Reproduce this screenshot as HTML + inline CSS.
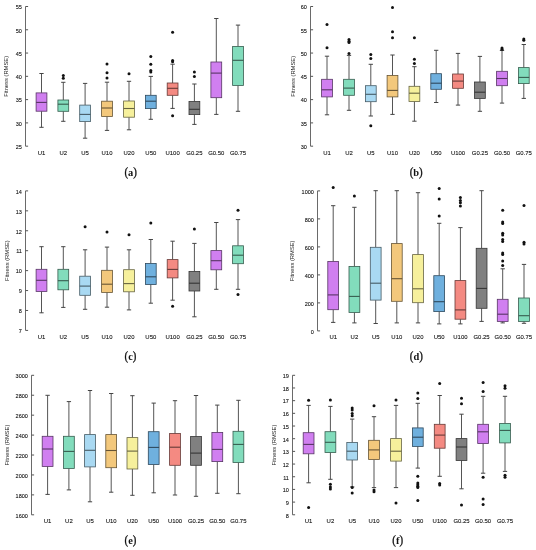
<!DOCTYPE html>
<html><head><meta charset="utf-8"><title>Fitness boxplots</title>
<style>
html,body{margin:0;padding:0;background:#fff;}
body{width:536px;height:550px;overflow:hidden;}
svg{display:block;will-change:transform;}
.t{font-family:"Liberation Sans",sans-serif;font-size:5.95px;fill:#111;stroke:#111;stroke-width:0.1px;}
.tt{font-size:5.8px;stroke:none;fill:#222;}
.cap{font-family:"Liberation Serif",serif;font-size:11.2px;font-weight:bold;fill:#111;}
.par{font-weight:normal;font-size:11.7px;stroke:#111;stroke-width:0.3px;}
.nb{font-weight:normal;}
</style></head>
<body>
<svg width="536" height="550" viewBox="0 0 536 550">
<rect width="536" height="550" fill="#fff"/>
<path d="M25.5 6.5V146.18" stroke="#6a6a6a" stroke-width="1" fill="none"/>
<path d="M25.5 6.5H28.1" stroke="#555" stroke-width="1"/>
<text class="t" text-anchor="end" transform="translate(21.9 9.3) scale(0.93 1)">55</text>
<path d="M25.5 29.78H28.1" stroke="#555" stroke-width="1"/>
<text class="t" text-anchor="end" transform="translate(21.9 32.58) scale(0.93 1)">50</text>
<path d="M25.5 53.06H28.1" stroke="#555" stroke-width="1"/>
<text class="t" text-anchor="end" transform="translate(21.9 55.86) scale(0.93 1)">45</text>
<path d="M25.5 76.34H28.1" stroke="#555" stroke-width="1"/>
<text class="t" text-anchor="end" transform="translate(21.9 79.14) scale(0.93 1)">40</text>
<path d="M25.5 99.62H28.1" stroke="#555" stroke-width="1"/>
<text class="t" text-anchor="end" transform="translate(21.9 102.42) scale(0.93 1)">35</text>
<path d="M25.5 122.9H28.1" stroke="#555" stroke-width="1"/>
<text class="t" text-anchor="end" transform="translate(21.9 125.7) scale(0.93 1)">30</text>
<path d="M25.5 146.18H28.1" stroke="#555" stroke-width="1"/>
<text class="t" text-anchor="end" transform="translate(21.9 148.98) scale(0.93 1)">25</text>
<text class="t tt" text-anchor="middle" transform="translate(8.4 76.34) rotate(-90)">Fitness (RMSE)</text>
<path d="M41.5 73.5V92.9M41.5 111.2V127.3" stroke="#555" stroke-width="1" fill="none"/>
<path d="M39.35 73.5H43.65" stroke="#444" stroke-width="1"/>
<path d="M39.35 127.3H43.65" stroke="#444" stroke-width="1"/>
<rect x="36.1" y="92.9" width="10.8" height="18.3" fill="#d07ff0" stroke="#573564" stroke-width="0.8"/>
<path d="M36.1 102.4H46.9" stroke="#573564" stroke-width="1.1"/>
<text x="41.5" y="154.8" class="t" text-anchor="middle">U1</text>
<path d="M63.3 82.3V100M63.3 111.3V121.3" stroke="#555" stroke-width="1" fill="none"/>
<path d="M61.15 82.3H65.45" stroke="#444" stroke-width="1"/>
<path d="M61.15 121.3H65.45" stroke="#444" stroke-width="1"/>
<rect x="57.9" y="100" width="10.8" height="11.3" fill="#82dcbc" stroke="#365c4e" stroke-width="0.8"/>
<path d="M57.9 104.2H68.7" stroke="#365c4e" stroke-width="1.1"/>
<circle cx="63.3" cy="75.6" r="1.5" fill="#111"/>
<circle cx="63.3" cy="78.2" r="1.5" fill="#111"/>
<text x="63.3" y="154.8" class="t" text-anchor="middle">U2</text>
<path d="M85.1 83.4V105.1M85.1 121.6V138.2" stroke="#555" stroke-width="1" fill="none"/>
<path d="M82.95 83.4H87.25" stroke="#444" stroke-width="1"/>
<path d="M82.95 138.2H87.25" stroke="#444" stroke-width="1"/>
<rect x="79.7" y="105.1" width="10.8" height="16.5" fill="#a9d9f2" stroke="#465b65" stroke-width="0.8"/>
<path d="M79.7 114.4H90.5" stroke="#465b65" stroke-width="1.1"/>
<text x="85.1" y="154.8" class="t" text-anchor="middle">U5</text>
<path d="M107 82.2V101.2M107 116.5V130.4" stroke="#555" stroke-width="1" fill="none"/>
<path d="M104.85 82.2H109.15" stroke="#444" stroke-width="1"/>
<path d="M104.85 130.4H109.15" stroke="#444" stroke-width="1"/>
<rect x="101.6" y="101.2" width="10.8" height="15.3" fill="#f3c87c" stroke="#665434" stroke-width="0.8"/>
<path d="M101.6 108H112.4" stroke="#665434" stroke-width="1.1"/>
<circle cx="107" cy="64.1" r="1.5" fill="#111"/>
<circle cx="107" cy="72.7" r="1.5" fill="#111"/>
<circle cx="107" cy="77.9" r="1.5" fill="#111"/>
<text x="107" y="154.8" class="t" text-anchor="middle">U10</text>
<path d="M129 81.3V101M129 117.2V129.8" stroke="#555" stroke-width="1" fill="none"/>
<path d="M126.85 81.3H131.15" stroke="#444" stroke-width="1"/>
<path d="M126.85 129.8H131.15" stroke="#444" stroke-width="1"/>
<rect x="123.6" y="101" width="10.8" height="16.2" fill="#f6f09c" stroke="#676441" stroke-width="0.8"/>
<path d="M123.6 108.5H134.4" stroke="#676441" stroke-width="1.1"/>
<circle cx="129" cy="73.7" r="1.5" fill="#111"/>
<text x="129" y="154.8" class="t" text-anchor="middle">U20</text>
<path d="M150.8 76.4V95.3M150.8 108.6V119.3" stroke="#555" stroke-width="1" fill="none"/>
<path d="M148.65 76.4H152.95" stroke="#444" stroke-width="1"/>
<path d="M148.65 119.3H152.95" stroke="#444" stroke-width="1"/>
<rect x="145.4" y="95.3" width="10.8" height="13.3" fill="#6fb0de" stroke="#2e495d" stroke-width="0.8"/>
<path d="M145.4 101.2H156.2" stroke="#2e495d" stroke-width="1.1"/>
<circle cx="150.8" cy="56.6" r="1.5" fill="#111"/>
<circle cx="150.8" cy="64.2" r="1.5" fill="#111"/>
<circle cx="150.8" cy="70.5" r="1.5" fill="#111"/>
<circle cx="150.8" cy="72.1" r="1.5" fill="#111"/>
<text x="150.8" y="154.8" class="t" text-anchor="middle">U50</text>
<path d="M172.6 64.2V83M172.6 95.3V108.4" stroke="#555" stroke-width="1" fill="none"/>
<path d="M170.45 64.2H174.75" stroke="#444" stroke-width="1"/>
<path d="M170.45 108.4H174.75" stroke="#444" stroke-width="1"/>
<rect x="167.2" y="83" width="10.8" height="12.3" fill="#f48a82" stroke="#663936" stroke-width="0.8"/>
<path d="M167.2 88.3H178" stroke="#663936" stroke-width="1.1"/>
<circle cx="172.6" cy="32.2" r="1.5" fill="#111"/>
<circle cx="172.6" cy="60.5" r="1.5" fill="#111"/>
<circle cx="172.6" cy="61.8" r="1.5" fill="#111"/>
<circle cx="172.6" cy="115.8" r="1.5" fill="#111"/>
<text x="172.6" y="154.8" class="t" text-anchor="middle">U100</text>
<path d="M194.4 84V101.5M194.4 114.6V124.4" stroke="#555" stroke-width="1" fill="none"/>
<path d="M192.25 84H196.55" stroke="#444" stroke-width="1"/>
<path d="M192.25 124.4H196.55" stroke="#444" stroke-width="1"/>
<rect x="189" y="101.5" width="10.8" height="13.1" fill="#808080" stroke="#353535" stroke-width="0.8"/>
<path d="M189 109.3H199.8" stroke="#353535" stroke-width="1.1"/>
<circle cx="194.4" cy="72" r="1.5" fill="#111"/>
<circle cx="194.4" cy="76.6" r="1.5" fill="#111"/>
<text x="194.4" y="154.8" class="t" text-anchor="middle">G0.25</text>
<path d="M216.3 18.5V62M216.3 97.7V114.4" stroke="#555" stroke-width="1" fill="none"/>
<path d="M214.15 18.5H218.45" stroke="#444" stroke-width="1"/>
<path d="M214.15 114.4H218.45" stroke="#444" stroke-width="1"/>
<rect x="210.9" y="62" width="10.8" height="35.7" fill="#d07ff0" stroke="#573564" stroke-width="0.8"/>
<path d="M210.9 73.1H221.7" stroke="#573564" stroke-width="1.1"/>
<text x="216.3" y="154.8" class="t" text-anchor="middle">G0.50</text>
<path d="M238 25.1V46.4M238 85.4V111.3" stroke="#555" stroke-width="1" fill="none"/>
<path d="M235.85 25.1H240.15" stroke="#444" stroke-width="1"/>
<path d="M235.85 111.3H240.15" stroke="#444" stroke-width="1"/>
<rect x="232.6" y="46.4" width="10.8" height="39" fill="#82dcbc" stroke="#365c4e" stroke-width="0.8"/>
<path d="M232.6 60.3H243.4" stroke="#365c4e" stroke-width="1.1"/>
<text x="238" y="154.8" class="t" text-anchor="middle">G0.75</text>
<text class="cap" text-anchor="middle" transform="translate(130.7 175.6) scale(0.93 1)"><tspan class="par">(</tspan>a<tspan class="par">)</tspan></text>
<path d="M310.5 6.5V146.18" stroke="#6a6a6a" stroke-width="1" fill="none"/>
<path d="M310.5 6.5H313.1" stroke="#555" stroke-width="1"/>
<text class="t" text-anchor="end" transform="translate(306.9 9.3) scale(0.93 1)">60</text>
<path d="M310.5 29.78H313.1" stroke="#555" stroke-width="1"/>
<text class="t" text-anchor="end" transform="translate(306.9 32.58) scale(0.93 1)">55</text>
<path d="M310.5 53.06H313.1" stroke="#555" stroke-width="1"/>
<text class="t" text-anchor="end" transform="translate(306.9 55.86) scale(0.93 1)">50</text>
<path d="M310.5 76.34H313.1" stroke="#555" stroke-width="1"/>
<text class="t" text-anchor="end" transform="translate(306.9 79.14) scale(0.93 1)">45</text>
<path d="M310.5 99.62H313.1" stroke="#555" stroke-width="1"/>
<text class="t" text-anchor="end" transform="translate(306.9 102.42) scale(0.93 1)">40</text>
<path d="M310.5 122.9H313.1" stroke="#555" stroke-width="1"/>
<text class="t" text-anchor="end" transform="translate(306.9 125.7) scale(0.93 1)">35</text>
<path d="M310.5 146.18H313.1" stroke="#555" stroke-width="1"/>
<text class="t" text-anchor="end" transform="translate(306.9 148.98) scale(0.93 1)">30</text>
<text class="t tt" text-anchor="middle" transform="translate(295.2 76.34) rotate(-90)">Fitness (RMSE)</text>
<path d="M327 56.2V79.3M327 96.9V114.8" stroke="#555" stroke-width="1" fill="none"/>
<path d="M324.85 56.2H329.15" stroke="#444" stroke-width="1"/>
<path d="M324.85 114.8H329.15" stroke="#444" stroke-width="1"/>
<rect x="321.6" y="79.3" width="10.8" height="17.6" fill="#d07ff0" stroke="#573564" stroke-width="0.8"/>
<path d="M321.6 89.8H332.4" stroke="#573564" stroke-width="1.1"/>
<circle cx="327" cy="24.4" r="1.5" fill="#111"/>
<circle cx="327" cy="47.7" r="1.5" fill="#111"/>
<text x="327" y="154.5" class="t" text-anchor="middle">U1</text>
<path d="M349 55.4V79.3M349 95.3V110.3" stroke="#555" stroke-width="1" fill="none"/>
<path d="M346.85 55.4H351.15" stroke="#444" stroke-width="1"/>
<path d="M346.85 110.3H351.15" stroke="#444" stroke-width="1"/>
<rect x="343.6" y="79.3" width="10.8" height="16" fill="#82dcbc" stroke="#365c4e" stroke-width="0.8"/>
<path d="M343.6 88.1H354.4" stroke="#365c4e" stroke-width="1.1"/>
<circle cx="349" cy="39.6" r="1.5" fill="#111"/>
<circle cx="349" cy="41.2" r="1.5" fill="#111"/>
<circle cx="349" cy="42.6" r="1.5" fill="#111"/>
<circle cx="349" cy="53.4" r="1.5" fill="#111"/>
<text x="349" y="154.5" class="t" text-anchor="middle">U2</text>
<path d="M370.8 64.3V85.7M370.8 101.7V116" stroke="#555" stroke-width="1" fill="none"/>
<path d="M368.65 64.3H372.95" stroke="#444" stroke-width="1"/>
<path d="M368.65 116H372.95" stroke="#444" stroke-width="1"/>
<rect x="365.4" y="85.7" width="10.8" height="16" fill="#a9d9f2" stroke="#465b65" stroke-width="0.8"/>
<path d="M365.4 94.3H376.2" stroke="#465b65" stroke-width="1.1"/>
<circle cx="370.8" cy="54.4" r="1.5" fill="#111"/>
<circle cx="370.8" cy="58.5" r="1.5" fill="#111"/>
<circle cx="370.8" cy="125.8" r="1.5" fill="#111"/>
<text x="370.8" y="154.5" class="t" text-anchor="middle">U5</text>
<path d="M392.5 55V75.5M392.5 96.9V114.4" stroke="#555" stroke-width="1" fill="none"/>
<path d="M390.35 55H394.65" stroke="#444" stroke-width="1"/>
<path d="M390.35 114.4H394.65" stroke="#444" stroke-width="1"/>
<rect x="387.1" y="75.5" width="10.8" height="21.4" fill="#f3c87c" stroke="#665434" stroke-width="0.8"/>
<path d="M387.1 90.4H397.9" stroke="#665434" stroke-width="1.1"/>
<circle cx="392.5" cy="7.4" r="1.5" fill="#111"/>
<circle cx="392.5" cy="31.8" r="1.5" fill="#111"/>
<circle cx="392.5" cy="37.8" r="1.5" fill="#111"/>
<text x="392.5" y="154.5" class="t" text-anchor="middle">U10</text>
<path d="M414.4 66.7V86.3M414.4 101.5V121.2" stroke="#555" stroke-width="1" fill="none"/>
<path d="M412.25 66.7H416.55" stroke="#444" stroke-width="1"/>
<path d="M412.25 121.2H416.55" stroke="#444" stroke-width="1"/>
<rect x="409" y="86.3" width="10.8" height="15.2" fill="#f6f09c" stroke="#676441" stroke-width="0.8"/>
<path d="M409 93.2H419.8" stroke="#676441" stroke-width="1.1"/>
<circle cx="414.4" cy="37.8" r="1.5" fill="#111"/>
<circle cx="414.4" cy="59.3" r="1.5" fill="#111"/>
<circle cx="414.4" cy="63.4" r="1.5" fill="#111"/>
<text x="414.4" y="154.5" class="t" text-anchor="middle">U20</text>
<path d="M436.2 50.3V73.7M436.2 89.3V102.5" stroke="#555" stroke-width="1" fill="none"/>
<path d="M434.05 50.3H438.35" stroke="#444" stroke-width="1"/>
<path d="M434.05 102.5H438.35" stroke="#444" stroke-width="1"/>
<rect x="430.8" y="73.7" width="10.8" height="15.6" fill="#6fb0de" stroke="#2e495d" stroke-width="0.8"/>
<path d="M430.8 83.2H441.6" stroke="#2e495d" stroke-width="1.1"/>
<text x="436.2" y="154.5" class="t" text-anchor="middle">U50</text>
<path d="M458 53.4V74M458 88.3V105.1" stroke="#555" stroke-width="1" fill="none"/>
<path d="M455.85 53.4H460.15" stroke="#444" stroke-width="1"/>
<path d="M455.85 105.1H460.15" stroke="#444" stroke-width="1"/>
<rect x="452.6" y="74" width="10.8" height="14.3" fill="#f48a82" stroke="#663936" stroke-width="0.8"/>
<path d="M452.6 81.1H463.4" stroke="#663936" stroke-width="1.1"/>
<text x="458" y="154.5" class="t" text-anchor="middle">U100</text>
<path d="M479.9 56.4V82M479.9 98.4V111.3" stroke="#555" stroke-width="1" fill="none"/>
<path d="M477.75 56.4H482.05" stroke="#444" stroke-width="1"/>
<path d="M477.75 111.3H482.05" stroke="#444" stroke-width="1"/>
<rect x="474.5" y="82" width="10.8" height="16.4" fill="#808080" stroke="#353535" stroke-width="0.8"/>
<path d="M474.5 92.2H485.3" stroke="#353535" stroke-width="1.1"/>
<text x="479.9" y="154.5" class="t" text-anchor="middle">G0.25</text>
<path d="M502 50.5V71.3M502 85.7V103.1" stroke="#555" stroke-width="1" fill="none"/>
<path d="M499.85 50.5H504.15" stroke="#444" stroke-width="1"/>
<path d="M499.85 103.1H504.15" stroke="#444" stroke-width="1"/>
<rect x="496.6" y="71.3" width="10.8" height="14.4" fill="#d07ff0" stroke="#573564" stroke-width="0.8"/>
<path d="M496.6 78.5H507.4" stroke="#573564" stroke-width="1.1"/>
<circle cx="502" cy="48" r="1.5" fill="#111"/>
<circle cx="502" cy="49.3" r="1.5" fill="#111"/>
<text x="502" y="154.5" class="t" text-anchor="middle">G0.50</text>
<path d="M523.8 44.5V67.6M523.8 83.6V98.4" stroke="#555" stroke-width="1" fill="none"/>
<path d="M521.65 44.5H525.95" stroke="#444" stroke-width="1"/>
<path d="M521.65 98.4H525.95" stroke="#444" stroke-width="1"/>
<rect x="518.4" y="67.6" width="10.8" height="16" fill="#82dcbc" stroke="#365c4e" stroke-width="0.8"/>
<path d="M518.4 77.4H529.2" stroke="#365c4e" stroke-width="1.1"/>
<circle cx="523.8" cy="39" r="1.5" fill="#111"/>
<circle cx="523.8" cy="40.2" r="1.5" fill="#111"/>
<text x="523.8" y="154.5" class="t" text-anchor="middle">G0.75</text>
<text class="cap" text-anchor="middle" transform="translate(416.2 175.6) scale(0.93 1)"><tspan class="par">(</tspan>b<tspan class="par">)</tspan></text>
<path d="M25.5 190.9V330.41" stroke="#6a6a6a" stroke-width="1" fill="none"/>
<path d="M25.5 190.9H28.1" stroke="#555" stroke-width="1"/>
<text class="t" text-anchor="end" transform="translate(21.9 193.7) scale(0.93 1)">14</text>
<path d="M25.5 210.83H28.1" stroke="#555" stroke-width="1"/>
<text class="t" text-anchor="end" transform="translate(21.9 213.63) scale(0.93 1)">13</text>
<path d="M25.5 230.76H28.1" stroke="#555" stroke-width="1"/>
<text class="t" text-anchor="end" transform="translate(21.9 233.56) scale(0.93 1)">12</text>
<path d="M25.5 250.69H28.1" stroke="#555" stroke-width="1"/>
<text class="t" text-anchor="end" transform="translate(21.9 253.49) scale(0.93 1)">11</text>
<path d="M25.5 270.62H28.1" stroke="#555" stroke-width="1"/>
<text class="t" text-anchor="end" transform="translate(21.9 273.42) scale(0.93 1)">10</text>
<path d="M25.5 290.55H28.1" stroke="#555" stroke-width="1"/>
<text class="t" text-anchor="end" transform="translate(21.9 293.35) scale(0.93 1)">9</text>
<path d="M25.5 310.48H28.1" stroke="#555" stroke-width="1"/>
<text class="t" text-anchor="end" transform="translate(21.9 313.28) scale(0.93 1)">8</text>
<path d="M25.5 330.41H28.1" stroke="#555" stroke-width="1"/>
<text class="t" text-anchor="end" transform="translate(21.9 333.21) scale(0.93 1)">7</text>
<text class="t tt" text-anchor="middle" transform="translate(9.2 260.65) rotate(-90)">Fitness (RMSE)</text>
<path d="M41.5 246.7V269.3M41.5 291.4V312.8" stroke="#555" stroke-width="1" fill="none"/>
<path d="M39.35 246.7H43.65" stroke="#444" stroke-width="1"/>
<path d="M39.35 312.8H43.65" stroke="#444" stroke-width="1"/>
<rect x="36.1" y="269.3" width="10.8" height="22.1" fill="#d07ff0" stroke="#573564" stroke-width="0.8"/>
<path d="M36.1 280.3H46.9" stroke="#573564" stroke-width="1.1"/>
<text x="41.5" y="339.1" class="t" text-anchor="middle">U1</text>
<path d="M63.3 246.7V269.3M63.3 289.8V307.4" stroke="#555" stroke-width="1" fill="none"/>
<path d="M61.15 246.7H65.45" stroke="#444" stroke-width="1"/>
<path d="M61.15 307.4H65.45" stroke="#444" stroke-width="1"/>
<rect x="57.9" y="269.3" width="10.8" height="20.5" fill="#82dcbc" stroke="#365c4e" stroke-width="0.8"/>
<path d="M57.9 280.7H68.7" stroke="#365c4e" stroke-width="1.1"/>
<text x="63.3" y="339.1" class="t" text-anchor="middle">U2</text>
<path d="M85.1 249.8V276.2M85.1 295.3V309.3" stroke="#555" stroke-width="1" fill="none"/>
<path d="M82.95 249.8H87.25" stroke="#444" stroke-width="1"/>
<path d="M82.95 309.3H87.25" stroke="#444" stroke-width="1"/>
<rect x="79.7" y="276.2" width="10.8" height="19.1" fill="#a9d9f2" stroke="#465b65" stroke-width="0.8"/>
<path d="M79.7 286.1H90.5" stroke="#465b65" stroke-width="1.1"/>
<circle cx="85.1" cy="226.8" r="1.5" fill="#111"/>
<text x="85.1" y="339.1" class="t" text-anchor="middle">U5</text>
<path d="M107 247.1V270.3M107 292.4V307.2" stroke="#555" stroke-width="1" fill="none"/>
<path d="M104.85 247.1H109.15" stroke="#444" stroke-width="1"/>
<path d="M104.85 307.2H109.15" stroke="#444" stroke-width="1"/>
<rect x="101.6" y="270.3" width="10.8" height="22.1" fill="#f3c87c" stroke="#665434" stroke-width="0.8"/>
<path d="M101.6 284.2H112.4" stroke="#665434" stroke-width="1.1"/>
<circle cx="107" cy="231.9" r="1.5" fill="#111"/>
<text x="107" y="339.1" class="t" text-anchor="middle">U10</text>
<path d="M129 249.8V269.7M129 291.8V309.9" stroke="#555" stroke-width="1" fill="none"/>
<path d="M126.85 249.8H131.15" stroke="#444" stroke-width="1"/>
<path d="M126.85 309.9H131.15" stroke="#444" stroke-width="1"/>
<rect x="123.6" y="269.7" width="10.8" height="22.1" fill="#f6f09c" stroke="#676441" stroke-width="0.8"/>
<path d="M123.6 283.6H134.4" stroke="#676441" stroke-width="1.1"/>
<circle cx="129" cy="234.8" r="1.5" fill="#111"/>
<text x="129" y="339.1" class="t" text-anchor="middle">U20</text>
<path d="M150.8 239.5V263.5M150.8 284.5V303.2" stroke="#555" stroke-width="1" fill="none"/>
<path d="M148.65 239.5H152.95" stroke="#444" stroke-width="1"/>
<path d="M148.65 303.2H152.95" stroke="#444" stroke-width="1"/>
<rect x="145.4" y="263.5" width="10.8" height="21" fill="#6fb0de" stroke="#2e495d" stroke-width="0.8"/>
<path d="M145.4 276.8H156.2" stroke="#2e495d" stroke-width="1.1"/>
<circle cx="150.8" cy="222.9" r="1.5" fill="#111"/>
<text x="150.8" y="339.1" class="t" text-anchor="middle">U50</text>
<path d="M172.6 241.2V259.6M172.6 277.9V300.2" stroke="#555" stroke-width="1" fill="none"/>
<path d="M170.45 241.2H174.75" stroke="#444" stroke-width="1"/>
<path d="M170.45 300.2H174.75" stroke="#444" stroke-width="1"/>
<rect x="167.2" y="259.6" width="10.8" height="18.3" fill="#f48a82" stroke="#663936" stroke-width="0.8"/>
<path d="M167.2 269.4H178" stroke="#663936" stroke-width="1.1"/>
<circle cx="172.6" cy="306.3" r="1.5" fill="#111"/>
<text x="172.6" y="339.1" class="t" text-anchor="middle">U100</text>
<path d="M194.4 243.4V271.4M194.4 291V316.8" stroke="#555" stroke-width="1" fill="none"/>
<path d="M192.25 243.4H196.55" stroke="#444" stroke-width="1"/>
<path d="M192.25 316.8H196.55" stroke="#444" stroke-width="1"/>
<rect x="189" y="271.4" width="10.8" height="19.6" fill="#808080" stroke="#353535" stroke-width="0.8"/>
<path d="M189 283.2H199.8" stroke="#353535" stroke-width="1.1"/>
<circle cx="194.4" cy="229" r="1.5" fill="#111"/>
<text x="194.4" y="339.1" class="t" text-anchor="middle">G0.25</text>
<path d="M216.3 222.5V250.6M216.3 269.8V289.3" stroke="#555" stroke-width="1" fill="none"/>
<path d="M214.15 222.5H218.45" stroke="#444" stroke-width="1"/>
<path d="M214.15 289.3H218.45" stroke="#444" stroke-width="1"/>
<rect x="210.9" y="250.6" width="10.8" height="19.2" fill="#d07ff0" stroke="#573564" stroke-width="0.8"/>
<path d="M210.9 260.7H221.7" stroke="#573564" stroke-width="1.1"/>
<text x="216.3" y="339.1" class="t" text-anchor="middle">G0.50</text>
<path d="M238 219.6V245.8M238 263.7V289.3" stroke="#555" stroke-width="1" fill="none"/>
<path d="M235.85 219.6H240.15" stroke="#444" stroke-width="1"/>
<path d="M235.85 289.3H240.15" stroke="#444" stroke-width="1"/>
<rect x="232.6" y="245.8" width="10.8" height="17.9" fill="#82dcbc" stroke="#365c4e" stroke-width="0.8"/>
<path d="M232.6 255.2H243.4" stroke="#365c4e" stroke-width="1.1"/>
<circle cx="238" cy="210.3" r="1.5" fill="#111"/>
<circle cx="238" cy="294.5" r="1.5" fill="#111"/>
<text x="238" y="339.1" class="t" text-anchor="middle">G0.75</text>
<text class="cap" text-anchor="middle" transform="translate(130.5 359.8) scale(0.93 1)"><tspan class="par">(</tspan>c<tspan class="par">)</tspan></text>
<path d="M317.5 190.9V330.9" stroke="#6a6a6a" stroke-width="1" fill="none"/>
<path d="M317.5 190.9H320.1" stroke="#555" stroke-width="1"/>
<text class="t" text-anchor="end" transform="translate(313.9 193.7) scale(0.93 1)">1000</text>
<path d="M317.5 218.9H320.1" stroke="#555" stroke-width="1"/>
<text class="t" text-anchor="end" transform="translate(313.9 221.7) scale(0.93 1)">800</text>
<path d="M317.5 246.9H320.1" stroke="#555" stroke-width="1"/>
<text class="t" text-anchor="end" transform="translate(313.9 249.7) scale(0.93 1)">600</text>
<path d="M317.5 274.9H320.1" stroke="#555" stroke-width="1"/>
<text class="t" text-anchor="end" transform="translate(313.9 277.7) scale(0.93 1)">400</text>
<path d="M317.5 302.9H320.1" stroke="#555" stroke-width="1"/>
<text class="t" text-anchor="end" transform="translate(313.9 305.7) scale(0.93 1)">200</text>
<path d="M317.5 330.9H320.1" stroke="#555" stroke-width="1"/>
<text class="t" text-anchor="end" transform="translate(313.9 333.7) scale(0.93 1)">0</text>
<text class="t tt" text-anchor="middle" transform="translate(294.2 260.9) rotate(-90)">Fitness (RMSE)</text>
<path d="M333.2 205.7V261.5M333.2 309.7V322.4" stroke="#555" stroke-width="1" fill="none"/>
<path d="M331.05 205.7H335.35" stroke="#444" stroke-width="1"/>
<path d="M331.05 322.4H335.35" stroke="#444" stroke-width="1"/>
<rect x="327.8" y="261.5" width="10.8" height="48.2" fill="#d07ff0" stroke="#573564" stroke-width="0.8"/>
<path d="M327.8 294.9H338.6" stroke="#573564" stroke-width="1.1"/>
<circle cx="333.2" cy="187.6" r="1.5" fill="#111"/>
<text x="333.2" y="339.1" class="t" text-anchor="middle">U1</text>
<path d="M354.4 207.3V266.4M354.4 312.4V322.9" stroke="#555" stroke-width="1" fill="none"/>
<path d="M352.25 207.3H356.55" stroke="#444" stroke-width="1"/>
<path d="M352.25 322.9H356.55" stroke="#444" stroke-width="1"/>
<rect x="349" y="266.4" width="10.8" height="46" fill="#82dcbc" stroke="#365c4e" stroke-width="0.8"/>
<path d="M349 296.4H359.8" stroke="#365c4e" stroke-width="1.1"/>
<circle cx="354.4" cy="196" r="1.5" fill="#111"/>
<text x="354.4" y="339.1" class="t" text-anchor="middle">U2</text>
<path d="M375.7 190.7V247.3M375.7 300.1V323.5" stroke="#555" stroke-width="1" fill="none"/>
<path d="M373.55 190.7H377.85" stroke="#444" stroke-width="1"/>
<path d="M373.55 323.5H377.85" stroke="#444" stroke-width="1"/>
<rect x="370.3" y="247.3" width="10.8" height="52.8" fill="#a9d9f2" stroke="#465b65" stroke-width="0.8"/>
<path d="M370.3 283.2H381.1" stroke="#465b65" stroke-width="1.1"/>
<text x="375.7" y="339.1" class="t" text-anchor="middle">U5</text>
<path d="M396.8 190.7V243.6M396.8 301.3V322.9" stroke="#555" stroke-width="1" fill="none"/>
<path d="M394.65 190.7H398.95" stroke="#444" stroke-width="1"/>
<path d="M394.65 322.9H398.95" stroke="#444" stroke-width="1"/>
<rect x="391.4" y="243.6" width="10.8" height="57.7" fill="#f3c87c" stroke="#665434" stroke-width="0.8"/>
<path d="M391.4 278.7H402.2" stroke="#665434" stroke-width="1.1"/>
<text x="396.8" y="339.1" class="t" text-anchor="middle">U10</text>
<path d="M418 192.7V254.6M418 302.7V322.9" stroke="#555" stroke-width="1" fill="none"/>
<path d="M415.85 192.7H420.15" stroke="#444" stroke-width="1"/>
<path d="M415.85 322.9H420.15" stroke="#444" stroke-width="1"/>
<rect x="412.6" y="254.6" width="10.8" height="48.1" fill="#f6f09c" stroke="#676441" stroke-width="0.8"/>
<path d="M412.6 288.8H423.4" stroke="#676441" stroke-width="1.1"/>
<text x="418" y="339.1" class="t" text-anchor="middle">U20</text>
<path d="M439.2 223.3V275.7M439.2 311.6V323.9" stroke="#555" stroke-width="1" fill="none"/>
<path d="M437.05 223.3H441.35" stroke="#444" stroke-width="1"/>
<path d="M437.05 323.9H441.35" stroke="#444" stroke-width="1"/>
<rect x="433.8" y="275.7" width="10.8" height="35.9" fill="#6fb0de" stroke="#2e495d" stroke-width="0.8"/>
<path d="M433.8 301.7H444.6" stroke="#2e495d" stroke-width="1.1"/>
<circle cx="439.2" cy="188.6" r="1.5" fill="#111"/>
<circle cx="439.2" cy="199.1" r="1.5" fill="#111"/>
<circle cx="439.2" cy="215.9" r="1.5" fill="#111"/>
<text x="439.2" y="339.1" class="t" text-anchor="middle">U50</text>
<path d="M460.4 227.6V280.6M460.4 319.2V323.9" stroke="#555" stroke-width="1" fill="none"/>
<path d="M458.25 227.6H462.55" stroke="#444" stroke-width="1"/>
<path d="M458.25 323.9H462.55" stroke="#444" stroke-width="1"/>
<rect x="455" y="280.6" width="10.8" height="38.6" fill="#f48a82" stroke="#663936" stroke-width="0.8"/>
<path d="M455 309.9H465.8" stroke="#663936" stroke-width="1.1"/>
<circle cx="460.4" cy="197.4" r="1.5" fill="#111"/>
<circle cx="460.4" cy="200.4" r="1.5" fill="#111"/>
<circle cx="460.4" cy="202.8" r="1.5" fill="#111"/>
<circle cx="460.4" cy="205.9" r="1.5" fill="#111"/>
<text x="460.4" y="339.1" class="t" text-anchor="middle">U100</text>
<path d="M481.6 190.7V248.3M481.6 308.3V321.4" stroke="#555" stroke-width="1" fill="none"/>
<path d="M479.45 190.7H483.75" stroke="#444" stroke-width="1"/>
<path d="M479.45 321.4H483.75" stroke="#444" stroke-width="1"/>
<rect x="476.2" y="248.3" width="10.8" height="60" fill="#808080" stroke="#353535" stroke-width="0.8"/>
<path d="M476.2 288.4H487" stroke="#353535" stroke-width="1.1"/>
<text x="481.6" y="339.1" class="t" text-anchor="middle">G0.25</text>
<path d="M502.7 268.8V299.3M502.7 321.4V322.9" stroke="#555" stroke-width="1" fill="none"/>
<path d="M500.55 268.8H504.85" stroke="#444" stroke-width="1"/>
<path d="M500.55 322.9H504.85" stroke="#444" stroke-width="1"/>
<rect x="497.3" y="299.3" width="10.8" height="22.1" fill="#d07ff0" stroke="#573564" stroke-width="0.8"/>
<path d="M497.3 314.2H508.1" stroke="#573564" stroke-width="1.1"/>
<circle cx="502.7" cy="210.2" r="1.5" fill="#111"/>
<circle cx="502.7" cy="222.1" r="1.5" fill="#111"/>
<circle cx="502.7" cy="223.6" r="1.5" fill="#111"/>
<circle cx="502.7" cy="233.2" r="1.5" fill="#111"/>
<circle cx="502.7" cy="234.9" r="1.5" fill="#111"/>
<circle cx="502.7" cy="239.6" r="1.5" fill="#111"/>
<circle cx="502.7" cy="241.5" r="1.5" fill="#111"/>
<circle cx="502.7" cy="253.1" r="1.5" fill="#111"/>
<circle cx="502.7" cy="254.6" r="1.5" fill="#111"/>
<circle cx="502.7" cy="261.1" r="1.5" fill="#111"/>
<circle cx="502.7" cy="265.5" r="1.5" fill="#111"/>
<text x="502.7" y="339.1" class="t" text-anchor="middle">G0.50</text>
<path d="M524 264.4V298M524 321.4V323.3" stroke="#555" stroke-width="1" fill="none"/>
<path d="M521.85 264.4H526.15" stroke="#444" stroke-width="1"/>
<path d="M521.85 323.3H526.15" stroke="#444" stroke-width="1"/>
<rect x="518.6" y="298" width="10.8" height="23.4" fill="#82dcbc" stroke="#365c4e" stroke-width="0.8"/>
<path d="M518.6 315.7H529.4" stroke="#365c4e" stroke-width="1.1"/>
<circle cx="524" cy="205.5" r="1.5" fill="#111"/>
<circle cx="524" cy="242.2" r="1.5" fill="#111"/>
<circle cx="524" cy="244" r="1.5" fill="#111"/>
<text x="524" y="339.1" class="t" text-anchor="middle">G0.75</text>
<text class="cap" text-anchor="middle" transform="translate(416.3 359.8) scale(0.93 1)"><tspan class="par">(</tspan>d<tspan class="par">)</tspan></text>
<path d="M31.5 375.3V514.81" stroke="#6a6a6a" stroke-width="1" fill="none"/>
<path d="M31.5 375.3H34.1" stroke="#555" stroke-width="1"/>
<text class="t" text-anchor="end" transform="translate(27.9 378.1) scale(0.93 1)">3000</text>
<path d="M31.5 395.23H34.1" stroke="#555" stroke-width="1"/>
<text class="t" text-anchor="end" transform="translate(27.9 398.03) scale(0.93 1)">2800</text>
<path d="M31.5 415.16H34.1" stroke="#555" stroke-width="1"/>
<text class="t" text-anchor="end" transform="translate(27.9 417.96) scale(0.93 1)">2600</text>
<path d="M31.5 435.09H34.1" stroke="#555" stroke-width="1"/>
<text class="t" text-anchor="end" transform="translate(27.9 437.89) scale(0.93 1)">2400</text>
<path d="M31.5 455.02H34.1" stroke="#555" stroke-width="1"/>
<text class="t" text-anchor="end" transform="translate(27.9 457.82) scale(0.93 1)">2200</text>
<path d="M31.5 474.95H34.1" stroke="#555" stroke-width="1"/>
<text class="t" text-anchor="end" transform="translate(27.9 477.75) scale(0.93 1)">2000</text>
<path d="M31.5 494.88H34.1" stroke="#555" stroke-width="1"/>
<text class="t" text-anchor="end" transform="translate(27.9 497.68) scale(0.93 1)">1800</text>
<path d="M31.5 514.81H34.1" stroke="#555" stroke-width="1"/>
<text class="t" text-anchor="end" transform="translate(27.9 517.61) scale(0.93 1)">1600</text>
<text class="t tt" text-anchor="middle" transform="translate(9 445.05) rotate(-90)">Fitness (RMSE)</text>
<path d="M47.6 395.3V436.3M47.6 466.4V494.4" stroke="#555" stroke-width="1" fill="none"/>
<path d="M45.45 395.3H49.75" stroke="#444" stroke-width="1"/>
<path d="M45.45 494.4H49.75" stroke="#444" stroke-width="1"/>
<rect x="42.2" y="436.3" width="10.8" height="30.1" fill="#d07ff0" stroke="#573564" stroke-width="0.8"/>
<path d="M42.2 449H53" stroke="#573564" stroke-width="1.1"/>
<text x="47.6" y="523" class="t" text-anchor="middle">U1</text>
<path d="M68.9 401.6V436.3M68.9 468.4V489.9" stroke="#555" stroke-width="1" fill="none"/>
<path d="M66.75 401.6H71.05" stroke="#444" stroke-width="1"/>
<path d="M66.75 489.9H71.05" stroke="#444" stroke-width="1"/>
<rect x="63.5" y="436.3" width="10.8" height="32.1" fill="#82dcbc" stroke="#365c4e" stroke-width="0.8"/>
<path d="M63.5 451.4H74.3" stroke="#365c4e" stroke-width="1.1"/>
<text x="68.9" y="523" class="t" text-anchor="middle">U2</text>
<path d="M90 390.5V434.6M90 466.9V501.8" stroke="#555" stroke-width="1" fill="none"/>
<path d="M87.85 390.5H92.15" stroke="#444" stroke-width="1"/>
<path d="M87.85 501.8H92.15" stroke="#444" stroke-width="1"/>
<rect x="84.6" y="434.6" width="10.8" height="32.3" fill="#a9d9f2" stroke="#465b65" stroke-width="0.8"/>
<path d="M84.6 450.3H95.4" stroke="#465b65" stroke-width="1.1"/>
<text x="90" y="523" class="t" text-anchor="middle">U5</text>
<path d="M111.2 393.5V434.6M111.2 467.7V492.2" stroke="#555" stroke-width="1" fill="none"/>
<path d="M109.05 393.5H113.35" stroke="#444" stroke-width="1"/>
<path d="M109.05 492.2H113.35" stroke="#444" stroke-width="1"/>
<rect x="105.8" y="434.6" width="10.8" height="33.1" fill="#f3c87c" stroke="#665434" stroke-width="0.8"/>
<path d="M105.8 450.5H116.6" stroke="#665434" stroke-width="1.1"/>
<text x="111.2" y="523" class="t" text-anchor="middle">U10</text>
<path d="M132.4 395.7V437.6M132.4 469V495.3" stroke="#555" stroke-width="1" fill="none"/>
<path d="M130.25 395.7H134.55" stroke="#444" stroke-width="1"/>
<path d="M130.25 495.3H134.55" stroke="#444" stroke-width="1"/>
<rect x="127" y="437.6" width="10.8" height="31.4" fill="#f6f09c" stroke="#676441" stroke-width="0.8"/>
<path d="M127 451.1H137.8" stroke="#676441" stroke-width="1.1"/>
<text x="132.4" y="523" class="t" text-anchor="middle">U20</text>
<path d="M153.7 403.1V431.7M153.7 464.5V492.8" stroke="#555" stroke-width="1" fill="none"/>
<path d="M151.55 403.1H155.85" stroke="#444" stroke-width="1"/>
<path d="M151.55 492.8H155.85" stroke="#444" stroke-width="1"/>
<rect x="148.3" y="431.7" width="10.8" height="32.8" fill="#6fb0de" stroke="#2e495d" stroke-width="0.8"/>
<path d="M148.3 447.4H159.1" stroke="#2e495d" stroke-width="1.1"/>
<text x="153.7" y="523" class="t" text-anchor="middle">U50</text>
<path d="M175 400.7V433.5M175 465.3V495" stroke="#555" stroke-width="1" fill="none"/>
<path d="M172.85 400.7H177.15" stroke="#444" stroke-width="1"/>
<path d="M172.85 495H177.15" stroke="#444" stroke-width="1"/>
<rect x="169.6" y="433.5" width="10.8" height="31.8" fill="#f48a82" stroke="#663936" stroke-width="0.8"/>
<path d="M169.6 447.2H180.4" stroke="#663936" stroke-width="1.1"/>
<text x="175" y="523" class="t" text-anchor="middle">U100</text>
<path d="M196 395.5V436.5M196 465.3V496.3" stroke="#555" stroke-width="1" fill="none"/>
<path d="M193.85 395.5H198.15" stroke="#444" stroke-width="1"/>
<path d="M193.85 496.3H198.15" stroke="#444" stroke-width="1"/>
<rect x="190.6" y="436.5" width="10.8" height="28.8" fill="#808080" stroke="#353535" stroke-width="0.8"/>
<path d="M190.6 453.1H201.4" stroke="#353535" stroke-width="1.1"/>
<text x="196" y="523" class="t" text-anchor="middle">G0.25</text>
<path d="M217.3 405.1V432.4M217.3 461.6V493.3" stroke="#555" stroke-width="1" fill="none"/>
<path d="M215.15 405.1H219.45" stroke="#444" stroke-width="1"/>
<path d="M215.15 493.3H219.45" stroke="#444" stroke-width="1"/>
<rect x="211.9" y="432.4" width="10.8" height="29.2" fill="#d07ff0" stroke="#573564" stroke-width="0.8"/>
<path d="M211.9 449.4H222.7" stroke="#573564" stroke-width="1.1"/>
<text x="217.3" y="523" class="t" text-anchor="middle">G0.50</text>
<path d="M238.4 400.3V431.3M238.4 462.5V493.7" stroke="#555" stroke-width="1" fill="none"/>
<path d="M236.25 400.3H240.55" stroke="#444" stroke-width="1"/>
<path d="M236.25 493.7H240.55" stroke="#444" stroke-width="1"/>
<rect x="233" y="431.3" width="10.8" height="31.2" fill="#82dcbc" stroke="#365c4e" stroke-width="0.8"/>
<path d="M233 444.4H243.8" stroke="#365c4e" stroke-width="1.1"/>
<text x="238.4" y="523" class="t" text-anchor="middle">G0.75</text>
<text class="cap" text-anchor="middle" transform="translate(130.5 544.2) scale(0.93 1)"><tspan class="par">(</tspan>e<tspan class="par">)</tspan></text>
<path d="M292.5 375.3V514.78" stroke="#6a6a6a" stroke-width="1" fill="none"/>
<path d="M292.5 375.3H295.1" stroke="#555" stroke-width="1"/>
<text class="t" text-anchor="end" transform="translate(288.9 378.1) scale(0.93 1)">19</text>
<path d="M292.5 387.98H295.1" stroke="#555" stroke-width="1"/>
<text class="t" text-anchor="end" transform="translate(288.9 390.78) scale(0.93 1)">18</text>
<path d="M292.5 400.66H295.1" stroke="#555" stroke-width="1"/>
<text class="t" text-anchor="end" transform="translate(288.9 403.46) scale(0.93 1)">17</text>
<path d="M292.5 413.34H295.1" stroke="#555" stroke-width="1"/>
<text class="t" text-anchor="end" transform="translate(288.9 416.14) scale(0.93 1)">16</text>
<path d="M292.5 426.02H295.1" stroke="#555" stroke-width="1"/>
<text class="t" text-anchor="end" transform="translate(288.9 428.82) scale(0.93 1)">15</text>
<path d="M292.5 438.7H295.1" stroke="#555" stroke-width="1"/>
<text class="t" text-anchor="end" transform="translate(288.9 441.5) scale(0.93 1)">14</text>
<path d="M292.5 451.38H295.1" stroke="#555" stroke-width="1"/>
<text class="t" text-anchor="end" transform="translate(288.9 454.18) scale(0.93 1)">13</text>
<path d="M292.5 464.06H295.1" stroke="#555" stroke-width="1"/>
<text class="t" text-anchor="end" transform="translate(288.9 466.86) scale(0.93 1)">12</text>
<path d="M292.5 476.74H295.1" stroke="#555" stroke-width="1"/>
<text class="t" text-anchor="end" transform="translate(288.9 479.54) scale(0.93 1)">11</text>
<path d="M292.5 489.42H295.1" stroke="#555" stroke-width="1"/>
<text class="t" text-anchor="end" transform="translate(288.9 492.22) scale(0.93 1)">10</text>
<path d="M292.5 502.1H295.1" stroke="#555" stroke-width="1"/>
<text class="t" text-anchor="end" transform="translate(288.9 504.9) scale(0.93 1)">9</text>
<path d="M292.5 514.78H295.1" stroke="#555" stroke-width="1"/>
<text class="t" text-anchor="end" transform="translate(288.9 517.58) scale(0.93 1)">8</text>
<text class="t tt" text-anchor="middle" transform="translate(275.5 445.04) rotate(-90)">Fitness (RMSE)</text>
<path d="M308.6 405.4V432.7M308.6 453.8V482.8" stroke="#555" stroke-width="1" fill="none"/>
<path d="M306.45 405.4H310.75" stroke="#444" stroke-width="1"/>
<path d="M306.45 482.8H310.75" stroke="#444" stroke-width="1"/>
<rect x="303.2" y="432.7" width="10.8" height="21.1" fill="#d07ff0" stroke="#573564" stroke-width="0.8"/>
<path d="M303.2 444.4H314" stroke="#573564" stroke-width="1.1"/>
<circle cx="308.6" cy="400.3" r="1.5" fill="#111"/>
<circle cx="308.6" cy="507.5" r="1.5" fill="#111"/>
<text x="308.6" y="523" class="t" text-anchor="middle">U1</text>
<path d="M330.4 406.4V431.7M330.4 452.5V479.3" stroke="#555" stroke-width="1" fill="none"/>
<path d="M328.25 406.4H332.55" stroke="#444" stroke-width="1"/>
<path d="M328.25 479.3H332.55" stroke="#444" stroke-width="1"/>
<rect x="325" y="431.7" width="10.8" height="20.8" fill="#82dcbc" stroke="#365c4e" stroke-width="0.8"/>
<path d="M325 442.3H335.8" stroke="#365c4e" stroke-width="1.1"/>
<circle cx="330.4" cy="399.9" r="1.5" fill="#111"/>
<circle cx="330.4" cy="484.3" r="1.5" fill="#111"/>
<circle cx="330.4" cy="486.9" r="1.5" fill="#111"/>
<circle cx="330.4" cy="489" r="1.5" fill="#111"/>
<text x="330.4" y="523" class="t" text-anchor="middle">U2</text>
<path d="M352.2 419.1V442.5M352.2 460V486.9" stroke="#555" stroke-width="1" fill="none"/>
<path d="M350.05 419.1H354.35" stroke="#444" stroke-width="1"/>
<path d="M350.05 486.9H354.35" stroke="#444" stroke-width="1"/>
<rect x="346.8" y="442.5" width="10.8" height="17.5" fill="#a9d9f2" stroke="#465b65" stroke-width="0.8"/>
<path d="M346.8 451.2H357.6" stroke="#465b65" stroke-width="1.1"/>
<circle cx="352.2" cy="408.1" r="1.5" fill="#111"/>
<circle cx="352.2" cy="410.1" r="1.5" fill="#111"/>
<circle cx="352.2" cy="413.6" r="1.5" fill="#111"/>
<circle cx="352.2" cy="415.7" r="1.5" fill="#111"/>
<circle cx="352.2" cy="487.5" r="1.5" fill="#111"/>
<circle cx="352.2" cy="493.1" r="1.5" fill="#111"/>
<text x="352.2" y="523" class="t" text-anchor="middle">U5</text>
<path d="M374 416.7V440.3M374 459.5V487.6" stroke="#555" stroke-width="1" fill="none"/>
<path d="M371.85 416.7H376.15" stroke="#444" stroke-width="1"/>
<path d="M371.85 487.6H376.15" stroke="#444" stroke-width="1"/>
<rect x="368.6" y="440.3" width="10.8" height="19.2" fill="#f3c87c" stroke="#665434" stroke-width="0.8"/>
<path d="M368.6 449.9H379.4" stroke="#665434" stroke-width="1.1"/>
<circle cx="374" cy="405.8" r="1.5" fill="#111"/>
<circle cx="374" cy="490" r="1.5" fill="#111"/>
<circle cx="374" cy="491.7" r="1.5" fill="#111"/>
<text x="374" y="523" class="t" text-anchor="middle">U10</text>
<path d="M396 405.4V438.6M396 461.1V487.6" stroke="#555" stroke-width="1" fill="none"/>
<path d="M393.85 405.4H398.15" stroke="#444" stroke-width="1"/>
<path d="M393.85 487.6H398.15" stroke="#444" stroke-width="1"/>
<rect x="390.6" y="438.6" width="10.8" height="22.5" fill="#f6f09c" stroke="#676441" stroke-width="0.8"/>
<path d="M390.6 451.2H401.4" stroke="#676441" stroke-width="1.1"/>
<circle cx="396" cy="399.9" r="1.5" fill="#111"/>
<circle cx="396" cy="503" r="1.5" fill="#111"/>
<text x="396" y="523" class="t" text-anchor="middle">U20</text>
<path d="M417.8 403.3V427.9M417.8 446.4V468.1" stroke="#555" stroke-width="1" fill="none"/>
<path d="M415.65 403.3H419.95" stroke="#444" stroke-width="1"/>
<path d="M415.65 468.1H419.95" stroke="#444" stroke-width="1"/>
<rect x="412.4" y="427.9" width="10.8" height="18.5" fill="#6fb0de" stroke="#2e495d" stroke-width="0.8"/>
<path d="M412.4 437.2H423.2" stroke="#2e495d" stroke-width="1.1"/>
<circle cx="417.8" cy="393.1" r="1.5" fill="#111"/>
<circle cx="417.8" cy="398.6" r="1.5" fill="#111"/>
<circle cx="417.8" cy="476.3" r="1.5" fill="#111"/>
<circle cx="417.8" cy="483.1" r="1.5" fill="#111"/>
<circle cx="417.8" cy="484.7" r="1.5" fill="#111"/>
<circle cx="417.8" cy="486.2" r="1.5" fill="#111"/>
<circle cx="417.8" cy="487.6" r="1.5" fill="#111"/>
<circle cx="417.8" cy="500.5" r="1.5" fill="#111"/>
<text x="417.8" y="523" class="t" text-anchor="middle">U50</text>
<path d="M439.7 395.5V424.3M439.7 448.2V476.3" stroke="#555" stroke-width="1" fill="none"/>
<path d="M437.55 395.5H441.85" stroke="#444" stroke-width="1"/>
<path d="M437.55 476.3H441.85" stroke="#444" stroke-width="1"/>
<rect x="434.3" y="424.3" width="10.8" height="23.9" fill="#f48a82" stroke="#663936" stroke-width="0.8"/>
<path d="M434.3 435.1H445.1" stroke="#663936" stroke-width="1.1"/>
<circle cx="439.7" cy="383.6" r="1.5" fill="#111"/>
<circle cx="439.7" cy="483.5" r="1.5" fill="#111"/>
<circle cx="439.7" cy="485.1" r="1.5" fill="#111"/>
<text x="439.7" y="523" class="t" text-anchor="middle">U100</text>
<path d="M461.5 414.2V438.6M461.5 460.5V488.8" stroke="#555" stroke-width="1" fill="none"/>
<path d="M459.35 414.2H463.65" stroke="#444" stroke-width="1"/>
<path d="M459.35 488.8H463.65" stroke="#444" stroke-width="1"/>
<rect x="456.1" y="438.6" width="10.8" height="21.9" fill="#808080" stroke="#353535" stroke-width="0.8"/>
<path d="M456.1 447H466.9" stroke="#353535" stroke-width="1.1"/>
<circle cx="461.5" cy="398.2" r="1.5" fill="#111"/>
<circle cx="461.5" cy="403.7" r="1.5" fill="#111"/>
<circle cx="461.5" cy="505" r="1.5" fill="#111"/>
<text x="461.5" y="523" class="t" text-anchor="middle">G0.25</text>
<path d="M483.1 396.3V424.3M483.1 443.6V473.2" stroke="#555" stroke-width="1" fill="none"/>
<path d="M480.95 396.3H485.25" stroke="#444" stroke-width="1"/>
<path d="M480.95 473.2H485.25" stroke="#444" stroke-width="1"/>
<rect x="477.7" y="424.3" width="10.8" height="19.3" fill="#d07ff0" stroke="#573564" stroke-width="0.8"/>
<path d="M477.7 431.8H488.5" stroke="#573564" stroke-width="1.1"/>
<circle cx="483.1" cy="382.4" r="1.5" fill="#111"/>
<circle cx="483.1" cy="391.4" r="1.5" fill="#111"/>
<circle cx="483.1" cy="477.3" r="1.5" fill="#111"/>
<circle cx="483.1" cy="498.9" r="1.5" fill="#111"/>
<circle cx="483.1" cy="504.6" r="1.5" fill="#111"/>
<text x="483.1" y="523" class="t" text-anchor="middle">G0.50</text>
<path d="M505 396.3V423.4M505 442.9V471.4" stroke="#555" stroke-width="1" fill="none"/>
<path d="M502.85 396.3H507.15" stroke="#444" stroke-width="1"/>
<path d="M502.85 471.4H507.15" stroke="#444" stroke-width="1"/>
<rect x="499.6" y="423.4" width="10.8" height="19.5" fill="#82dcbc" stroke="#365c4e" stroke-width="0.8"/>
<path d="M499.6 430.4H510.4" stroke="#365c4e" stroke-width="1.1"/>
<circle cx="505" cy="385.7" r="1.5" fill="#111"/>
<circle cx="505" cy="388.3" r="1.5" fill="#111"/>
<circle cx="505" cy="475.3" r="1.5" fill="#111"/>
<circle cx="505" cy="477.3" r="1.5" fill="#111"/>
<text x="505" y="523" class="t" text-anchor="middle">G0.75</text>
<text class="cap" text-anchor="middle" transform="translate(397.7 544.2) scale(0.93 1)"><tspan class="par">(</tspan>f<tspan class="par">)</tspan></text>
</svg>
</body></html>
